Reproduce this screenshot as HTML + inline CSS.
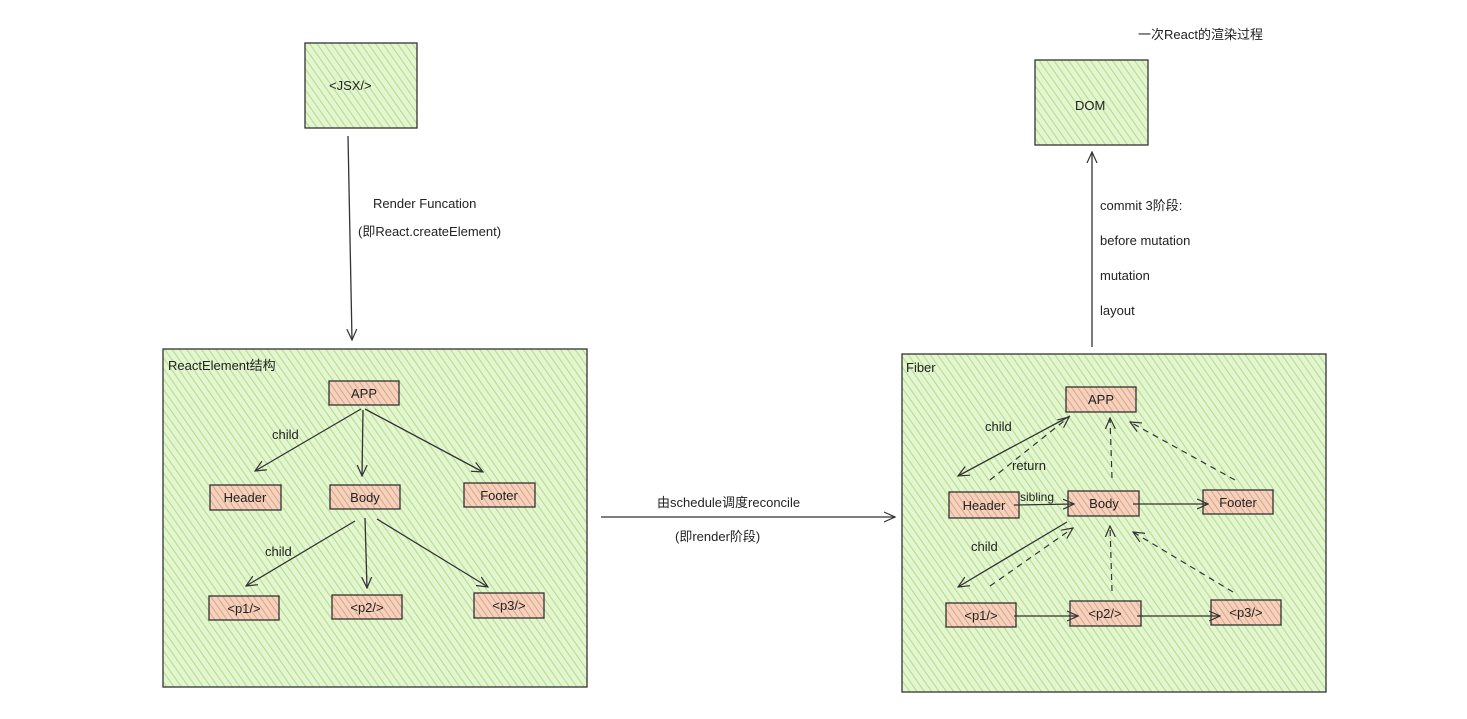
<!DOCTYPE html>
<html><head><meta charset="utf-8"><style>
html,body{margin:0;padding:0;background:#fff;}
svg text{font-family:"Liberation Sans","Noto Sans CJK SC",sans-serif;font-size:13px;fill:#222;}
</style></head><body>
<svg width="1467" height="714" viewBox="0 0 1467 714" xmlns="http://www.w3.org/2000/svg">
<defs>
<pattern id="g" width="6" height="6" patternUnits="userSpaceOnUse" patternTransform="rotate(-35)">
<rect width="6" height="6" fill="#e4f5d2"/><line x1="0" y1="0" x2="0" y2="6" stroke="#b5df8a" stroke-width="2.2"/></pattern>
<pattern id="o" width="5" height="5" patternUnits="userSpaceOnUse" patternTransform="rotate(-35)">
<rect width="5" height="5" fill="#f3d2bf"/><line x1="0" y1="0" x2="0" y2="5" stroke="#e2a27f" stroke-width="2"/></pattern>
<marker id="a" viewBox="0 0 12 12" refX="11" refY="6" markerWidth="12" markerHeight="12" markerUnits="userSpaceOnUse" orient="auto">
<path d="M0,1 L11,6 L0,11" fill="none" stroke="#333" stroke-width="1.2"/></marker>
</defs>
<g stroke="#333" stroke-width="1.3">
<rect x="305" y="43" width="112" height="85" fill="url(#g)"/>
<rect x="1035" y="60" width="113" height="85" fill="url(#g)"/>
<rect x="163" y="349" width="424" height="338" fill="url(#g)"/>
<rect x="902" y="354" width="424" height="338" fill="url(#g)"/>
</g>
<g stroke="#333" stroke-width="1.3" fill="url(#o)">
<rect x="329" y="381" width="70" height="24"/><rect x="210" y="485" width="71" height="25"/>
<rect x="330" y="485" width="70" height="24"/><rect x="464" y="483" width="71" height="24"/>
<rect x="209" y="596" width="70" height="24"/><rect x="332" y="595" width="70" height="24"/>
<rect x="474" y="593" width="70" height="25"/>
<rect x="1066" y="387" width="70" height="25"/><rect x="949" y="492" width="70" height="26"/>
<rect x="1068" y="491" width="71" height="25"/><rect x="1203" y="490" width="70" height="24"/>
<rect x="946" y="603" width="70" height="24"/><rect x="1070" y="601" width="71" height="25"/>
<rect x="1211" y="600" width="70" height="25"/>
</g>
<g stroke="#333" stroke-width="1.3" fill="none" marker-end="url(#a)">
<line x1="348" y1="136" x2="352" y2="340"/>
<line x1="601" y1="517" x2="895" y2="517"/>
<line x1="1092" y1="347" x2="1092" y2="152"/>
<line x1="361" y1="409" x2="255" y2="471"/>
<line x1="363" y1="410" x2="362" y2="476"/>
<line x1="365" y1="409" x2="483" y2="472"/>
<line x1="355" y1="521" x2="246" y2="586"/>
<line x1="365" y1="518" x2="367" y2="588"/>
<line x1="377" y1="519" x2="488" y2="587"/>
<line x1="1070" y1="416" x2="958" y2="476"/>
<line x1="1067" y1="522" x2="958" y2="587"/>
<line x1="1014" y1="505" x2="1074" y2="504"/>
<line x1="1133" y1="504" x2="1208" y2="504"/>
<line x1="1014" y1="616" x2="1078" y2="616"/>
<line x1="1137" y1="616" x2="1220" y2="616"/>
</g>
<g stroke="#333" stroke-width="1.2" fill="none" stroke-dasharray="6,5" marker-end="url(#a)">
<line x1="990" y1="480" x2="1069" y2="417"/>
<line x1="1112" y1="478" x2="1110" y2="418"/>
<line x1="1235" y1="480" x2="1130" y2="422"/>
<line x1="990" y1="586" x2="1073" y2="528"/>
<line x1="1112" y1="591" x2="1110" y2="526"/>
<line x1="1233" y1="592" x2="1133" y2="532"/>
</g>
<text x="329" y="90">&lt;JSX/&gt;</text>
<text x="1075" y="110">DOM</text>
<text x="1138" y="39">一次React的渲染过程</text>
<text x="373" y="208">Render Funcation</text>
<text x="358" y="236">(即React.createElement)</text>
<text x="657" y="507">由schedule调度reconcile</text>
<text x="675" y="541">(即render阶段)</text>
<text x="1100" y="210">commit 3阶段:</text>
<text x="1100" y="245">before mutation</text>
<text x="1100" y="280">mutation</text>
<text x="1100" y="315">layout</text>
<text x="168" y="370">ReactElement结构</text>
<text x="906" y="372">Fiber</text>
<text x="272" y="439">child</text>
<text x="265" y="556">child</text>
<text x="985" y="431">child</text>
<text x="971" y="551">child</text>
<text x="1012" y="470">return</text>
<text x="1020" y="501" style="font-size:12px">sibling</text>
<g style="font-size:12px" text-anchor="middle">
<text x="364" y="398">APP</text><text x="245" y="502">Header</text><text x="365" y="502">Body</text>
<text x="499" y="500">Footer</text><text x="244" y="613">&lt;p1/&gt;</text><text x="367" y="612">&lt;p2/&gt;</text>
<text x="509" y="610">&lt;p3/&gt;</text>
<text x="1101" y="404">APP</text><text x="984" y="510">Header</text><text x="1104" y="508">Body</text>
<text x="1238" y="507">Footer</text><text x="981" y="620">&lt;p1/&gt;</text><text x="1105" y="618">&lt;p2/&gt;</text>
<text x="1246" y="617">&lt;p3/&gt;</text>
</g>
</svg>
</body></html>
